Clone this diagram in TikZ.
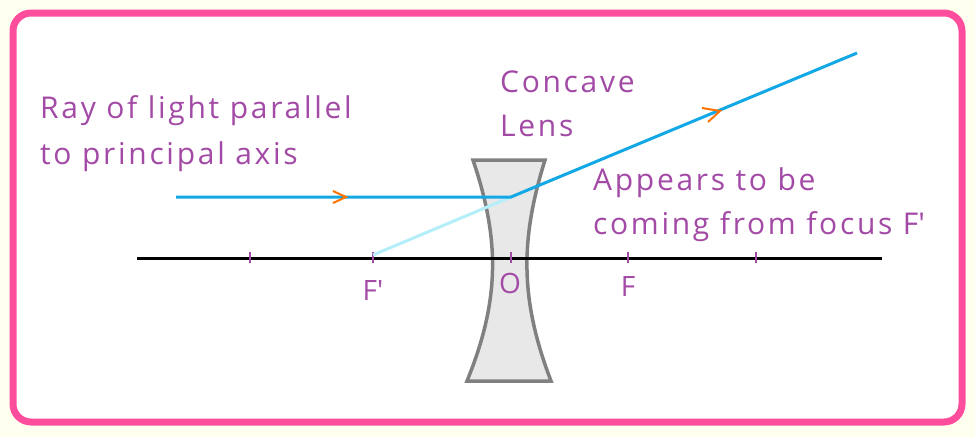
\documentclass[tikz,border=0pt]{standalone}
\usepackage{fontspec}
\setmainfont{Open Sans}
\newfontfamily\lblfont{Open Sans}
\begin{document}
\begin{tikzpicture}[x=1pt,y=-1pt,
  hand/.style={text=txt,font=\fontsize{30}{34}\selectfont\addfontfeature{LetterSpace=9},anchor=base west,inner sep=0},
  lbl/.style={text=txt,font=\lblfont\fontsize{28}{32}\selectfont,anchor=base,inner sep=0},
  tick/.style={draw=txt,line width=2},
  chev/.style={draw=orange!90!red,line width=2}]
\definecolor{txt}{HTML}{A24AA6}
\definecolor{ray}{HTML}{12A8E6}
\definecolor{rayl}{HTML}{B4EEFA}
\definecolor{cream}{HTML}{FFFFF0}
\definecolor{pinkb}{HTML}{FF4D9E}
\useasboundingbox (0,0) rectangle (975,437);
\fill[cream] (0,0) rectangle (975,437);
\draw[pinkb,line width=7,fill=white,rounded corners=18] (13,13) rectangle (962,422);
% lens
\draw[gray,line width=3.5,fill=black!9] (473,160) -- (545,160) .. controls (520,240) and (520,300) .. (551,381) -- (467,381) .. controls (500,300) and (500,240) .. (473,160) -- cycle;
% axis
\coordinate (A0) at (137,258); \coordinate (A1) at (882,258);
\draw[black,line width=3] (A0) -- (A1);
\foreach \x in {250,373,511,628,756} \draw[tick] (\x,252) -- (\x,263);
% rays
\coordinate (S) at (176,197); \coordinate (P) at (511,197); \coordinate (E) at (857,53); \coordinate (Fp) at (373,255);
\draw[rayl,line width=3] (Fp) -- (P);
\draw[ray,line width=3] (S) -- (P) -- (E);
\draw[chev] (333,191) -- (346,197) -- (333,203);
\draw[chev] (702,108) -- (720,111) -- (708,122);
% labels
\node[lbl] (lf) at (373,300) {F\textquotesingle};
\node[lbl] (lo) at (510,293) {O};
\node[lbl] (lF) at (628,296) {F};
\node[hand] (t1) at (40,118) {Ray of light parallel};
\node[hand] (t2) at (40,164) {to principal axis};
\node[hand] (t3) at (500,92) {Concave};
\node[hand] (t4) at (500,136) {Lens};
\node[hand] (t5) at (593,190) {Appears to be};
\node[hand] (t6) at (593,234) {coming from focus F\textquotesingle};
\end{tikzpicture}
\end{document}
